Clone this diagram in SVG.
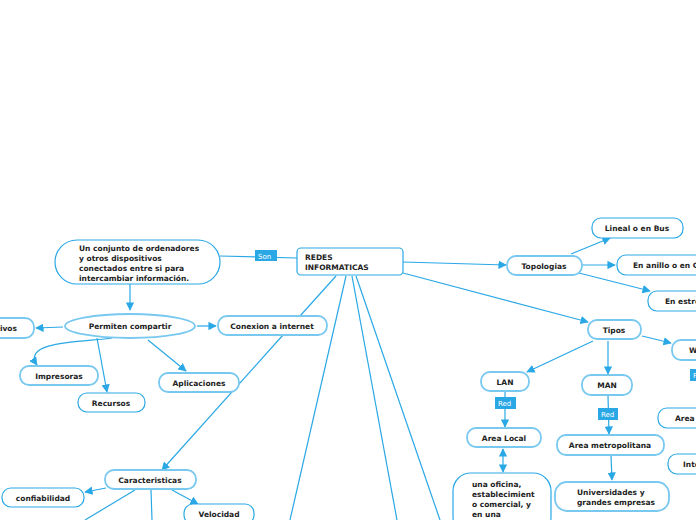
<svg xmlns="http://www.w3.org/2000/svg" width="696" height="520" viewBox="0 0 696 520">
<style>
.n{fill:#fff;stroke:#2aa8e6;stroke-width:1.2}
.l{fill:#fff;stroke:#78c8f0;stroke-width:1.8}
.t{font-family:"DejaVu Sans",Verdana,sans-serif;font-size:7.5px;font-weight:bold;fill:#222}
.c{stroke:#2aa8e6;stroke-width:1.2;fill:none}
.lb{fill:#2aa8e6}
.lt{font-family:"DejaVu Sans",sans-serif;font-size:7px;fill:#fff}
</style>
<defs>
<marker id="a" viewBox="0 0 10 10" refX="9" refY="5" markerWidth="7" markerHeight="7" orient="auto-start-reverse"><path d="M0,0L10,5L0,10z" fill="#2aa8e6"/></marker>
</defs>
<g id="connectors">
<path class="c" d="M220,256L297,258"/>
<path class="c" d="M130,284L130,310" marker-end="url(#a)"/>
<path class="c" d="M63,327L36,328" marker-end="url(#a)"/>
<path class="c" d="M197,326L216,326" marker-end="url(#a)"/>
<path class="c" d="M112,338C90,342 20,340 37,365" marker-end="url(#a)"/>
<path class="c" d="M97,338L107,392" marker-end="url(#a)"/>
<path class="c" d="M148,340L186,371" marker-end="url(#a)"/>
<path class="c" d="M336,276L300,316"/>
<path class="c" d="M283,335L162,470" marker-end="url(#a)"/>
<path class="c" d="M106,488L85,492" marker-end="url(#a)"/>
<path class="c" d="M172,490L198,504" marker-end="url(#a)"/>
<path class="c" d="M135,490L85,520"/>
<path class="c" d="M151,490L152,520"/>
<path class="c" d="M346,276L290,520"/>
<path class="c" d="M352,276L397,520"/>
<path class="c" d="M356,276L440,520"/>
<path class="c" d="M403,262L506,265" marker-end="url(#a)"/>
<path class="c" d="M571,254L610,238" marker-end="url(#a)"/>
<path class="c" d="M582,265L615,265" marker-end="url(#a)"/>
<path class="c" d="M579,273L650,291" marker-end="url(#a)"/>
<path class="c" d="M403,273L588,322" marker-end="url(#a)"/>
<path class="c" d="M642,336L671,343" marker-end="url(#a)"/>
<path class="c" d="M593,341L527,372" marker-end="url(#a)"/>
<path class="c" d="M608,341L608,374" marker-end="url(#a)"/>
<path class="c" d="M505,391L505,427" marker-end="url(#a)"/>
<path class="c" d="M503,449L503,472" marker-start="url(#a)" marker-end="url(#a)"/>
<path class="c" d="M608,396L609,434" marker-end="url(#a)"/>
<path class="c" d="M611,456L612,480" marker-end="url(#a)"/>
</g>
<g id="son"><rect class="lb" x="255" y="250" width="22" height="11"/><text class="lt" x="258" y="258.5">Son</text></g>
<g id="red1"><rect class="lb" x="495" y="397" width="21" height="12"/><text class="lt" x="498" y="406">Red</text></g>
<g id="red2"><rect class="lb" x="598" y="408" width="20" height="12"/><text class="lt" x="601" y="417">Red</text></g>
<g id="red3"><rect class="lb" x="690" y="369" width="20" height="12"/><text class="lt" x="693" y="378">Red</text></g>
<g id="def"><rect class="n" x="55" y="240" width="165" height="44" rx="22"/><text class="t" x="79" y="251">Un conjunto de ordenadores</text><text class="t" x="79" y="261">y otros dispositivos</text><text class="t" x="79" y="271">conectados entre si para</text><text class="t" x="79" y="281">intercambiar información.</text></g>
<g id="redes"><rect class="n" x="297" y="248" width="106" height="27" rx="4"/><text class="t" x="305" y="260">REDES</text><text class="t" x="305" y="270">INFORMATICAS</text></g>
<g id="permiten"><ellipse class="l" cx="130" cy="326" rx="65" ry="12"/><text class="t" x="130" y="329" text-anchor="middle">Permiten compartir</text></g>
<g id="archivos"><rect class="l" x="-30" y="318" width="64" height="20" rx="9"/><text class="t" x="17" y="331" text-anchor="end">Archivos</text></g>
<g id="conexion"><rect class="l" x="218" y="316" width="109" height="19" rx="9"/><text class="t" x="272" y="329" text-anchor="middle">Conexion a internet</text></g>
<g id="impresoras"><rect class="l" x="20" y="366" width="78" height="19" rx="9"/><text class="t" x="59" y="379" text-anchor="middle">Impresoras</text></g>
<g id="recursos"><rect class="n" x="78" y="393" width="67" height="19" rx="9"/><text class="t" x="111" y="406" text-anchor="middle">Recursos</text></g>
<g id="aplicaciones"><rect class="l" x="159" y="373" width="80" height="19" rx="9"/><text class="t" x="199" y="386" text-anchor="middle">Aplicaciones</text></g>
<g id="caracteristicas"><rect class="l" x="105" y="470" width="91" height="19" rx="9"/><text class="t" x="150" y="483" text-anchor="middle">Caracteristicas</text></g>
<g id="confiabilidad"><rect class="n" x="2" y="488" width="82" height="19" rx="9"/><text class="t" x="43" y="501" text-anchor="middle">confiabilidad</text></g>
<g id="velocidad"><rect class="n" x="184" y="504" width="70" height="20" rx="9"/><text class="t" x="219" y="517" text-anchor="middle">Velocidad</text></g>
<g id="topologias"><rect class="l" x="507" y="256" width="75" height="19" rx="9"/><text class="t" x="544" y="269" text-anchor="middle">Topologias</text></g>
<g id="lineal"><rect class="n" x="592" y="218" width="91" height="20" rx="9"/><text class="t" x="637" y="231" text-anchor="middle">Lineal o en Bus</text></g>
<g id="anillo"><rect class="n" x="617" y="255" width="100" height="20" rx="9"/><text class="t" x="633" y="268">En anillo o en Circulo</text></g>
<g id="estrella"><rect class="n" x="648" y="291" width="70" height="20" rx="9"/><text class="t" x="665" y="304">En estrella</text></g>
<g id="tipos"><rect class="l" x="588" y="320" width="53" height="19" rx="9"/><text class="t" x="614" y="333" text-anchor="middle">Tipos</text></g>
<g id="wan"><rect class="l" x="672" y="340" width="40" height="20" rx="9"/><text class="t" x="689" y="353">WAN</text></g>
<g id="areaamplia"><rect class="n" x="658" y="408" width="60" height="20" rx="9"/><text class="t" x="675" y="421">Area Amplia</text></g>
<g id="internet"><rect class="n" x="668" y="454" width="50" height="20" rx="9"/><text class="t" x="683" y="467">Internet</text></g>
<g id="lan"><rect class="l" x="481" y="372" width="48" height="19" rx="9"/><text class="t" x="505" y="385" text-anchor="middle">LAN</text></g>
<g id="man"><rect class="l" x="582" y="375" width="50" height="20" rx="9"/><text class="t" x="607" y="388" text-anchor="middle">MAN</text></g>
<g id="arealocal"><rect class="l" x="467" y="428" width="74" height="19" rx="9"/><text class="t" x="504" y="441" text-anchor="middle">Area Local</text></g>
<g id="oficina"><rect class="n" x="453" y="473" width="98" height="62" rx="18"/><text class="t" x="472" y="487">una oficina,</text><text class="t" x="472" y="497">establecimient</text><text class="t" x="472" y="507">o comercial, y</text><text class="t" x="472" y="517">en una</text><text class="t" x="472" y="527">pequeña área</text></g>
<g id="metro"><rect class="l" x="557" y="435" width="107" height="20" rx="9"/><text class="t" x="610" y="448" text-anchor="middle">Area metropolitana</text></g>
<g id="univ"><rect class="l" x="555" y="482" width="114" height="29" rx="12"/><text class="t" x="577" y="495">Universidades y</text><text class="t" x="577" y="505">grandes empresas</text></g>
</svg>
